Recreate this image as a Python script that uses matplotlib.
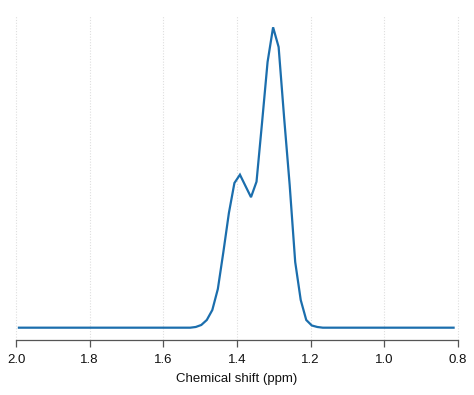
import matplotlib
matplotlib.use('Agg')
import matplotlib.pyplot as plt

plt.rcParams['font.family'] = ['Liberation Sans', 'DejaVu Sans']

# spectrum (ppm, relative intensity) - straight baseline outside the peak
shift = [1.992, 1.527, 1.512, 1.497, 1.482, 1.467, 1.452, 1.437, 1.422, 1.407,
         1.392, 1.377, 1.362, 1.347, 1.332, 1.317, 1.302, 1.287, 1.272, 1.257,
         1.242, 1.227, 1.212, 1.197, 1.182, 1.167, 0.812]
intensity = [0.0, 0.0, 0.7, 2.7, 7.7, 17.7, 38.7, 75.7, 114.7, 144.7,
             153.0, 141.7, 130.5, 146.0, 205.0, 265.7, 300.4, 280.7, 209.7, 142.7,
             65.7, 27.7, 7.7, 2.2, 0.7, 0.0, 0.0]
ticks = [2.0, 1.8, 1.6, 1.4, 1.2, 1.0, 0.8]

fig = plt.figure(figsize=(4.74, 3.95), dpi=100)
ax = fig.add_axes([0.0, 0.140, 1.0, 0.8213])

ax.plot(shift, intensity, color='#1b6ead', lw=1.6, solid_joinstyle='miter')

# R style limits (4% padding on y)
rng = max(intensity) - min(intensity)
ax.set_ylim(min(intensity) - 0.04 * rng, max(intensity) + 0.04 * rng)
ax.set_xlim(2.0 + 16 / 368.33, 0.8 - 16 / 368.33)

ax.set_xticks(ticks)
ax.set_xticklabels(['%.1f' % t for t in ticks])
for t in ticks:
    ax.axvline(t, color='#dedede', lw=0.8, ls=(0, (1, 1.5)), zorder=0)

for s in ['left', 'right', 'top']:
    ax.spines[s].set_visible(False)
ax.spines['bottom'].set_bounds(2.0, 0.8)
ax.spines['bottom'].set_color('#555555')
ax.spines['bottom'].set_linewidth(0.9)
ax.set_yticks([])
ax.tick_params(axis='x', direction='out', length=5, width=0.9, color='#555555',
               labelsize=9.5, pad=5.5, labelcolor='#111111')
ax.set_xlabel('Chemical shift (ppm)', fontsize=9.5, color='#111111', labelpad=4.5)

fig.savefig('out.png', dpi=100)
